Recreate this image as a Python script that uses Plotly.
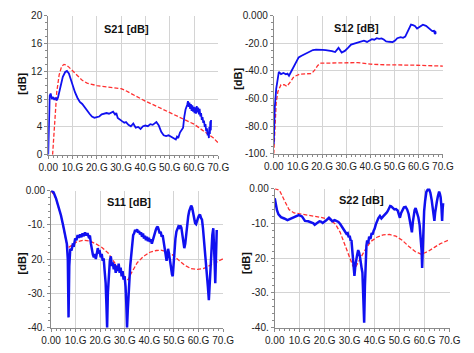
import plotly.graph_objects as go

W, H = 474, 353

# ---------------- data ----------------
xticks = [0, 10, 20, 30, 40, 50, 60, 70]
xticklabels = ["0.00", "10.G", "20.G", "30.G", "40.G", "50.G", "60.G", "70.G"]

# S21
s21_y_ticks = [0, 4, 8, 12, 16, 20]
s21_y_labels = ["0", "4", "8", "12", "16", "20"]
s21_red_f = [1.8, 2.5, 3.5, 4.5, 5.5, 6.5, 7.5, 8.5, 10, 12, 14, 16, 18, 20, 22, 25, 28, 30, 32, 34, 36, 38, 40,
             45, 50, 55, 60, 62, 65, 68, 70]
s21_red_v = [0, 4, 9, 11.5, 12.7, 13.0, 12.9, 12.6, 12.1, 11.3, 10.7, 10.3, 10.1, 9.95, 9.85, 9.75, 9.6, 9.5,
             9.2, 8.8, 8.4, 8.0, 7.7, 6.9, 6.1, 5.3, 4.4, 3.9, 3.2, 2.4, 1.7]
s21_blue_f = [0, 0.3, 0.6, 1.0, 1.5, 2.0, 2.5, 3.0, 3.5, 4.0, 5.0, 6.0, 7.0, 7.7, 8.5, 9.5, 10.3, 11, 12, 13, 14,
              15, 16, 17, 18, 19, 20, 21, 22, 23, 24, 25, 26, 26.7, 27.5, 28, 28.6, 29.5, 30.5, 31.3, 32, 33, 34,
              35, 36, 37, 38, 39, 40, 41, 42, 43, 44, 44.5, 45.5, 46.5, 47.5, 48.5, 49.5, 50.5, 51.5, 52.5, 53,
              53.5, 54.2, 55, 55.5, 56, 56.5, 57.2, 57.5, 57.8, 58.1, 58.4, 58.7, 59.0, 59.3, 59.6, 59.9, 60.2,
              60.5, 60.8, 61.1, 61.4, 61.7, 62.0, 62.3, 62.6, 62.9, 63.2, 63.5, 63.8, 64.1, 64.4, 64.7, 65.0,
              65.3, 65.6, 65.9, 66.1, 66.3, 66.5, 66.7, 66.9, 67.0]
s21_blue_v = [0, 3, 8.5, 8.8, 8.0, 8.3, 7.9, 8.2, 7.8, 8.2, 9.8, 11.2, 11.9, 12.05, 11.7, 10.5, 9.6, 9.0, 8.2, 7.6,
              7.3, 6.8, 6.3, 5.9, 5.5, 5.3, 5.4, 5.5, 5.8, 5.9, 6.0, 5.9, 6.1, 6.2, 5.8, 6.0, 5.3, 5.0, 4.8, 4.6,
              4.7, 4.3, 4.1, 4.5, 3.9, 4.0, 3.7, 4.1, 4.2, 4.1, 4.4, 4.3, 4.6, 4.7, 4.2, 3.3, 2.8, 2.7, 2.8, 2.6,
              2.5, 2.2, 2.6, 2.4, 3.2, 3.6, 3.9, 5.5, 6.5, 7.2, 7.7, 6.9, 7.5, 6.6, 7.3, 6.3, 7.1, 6.2, 6.9, 6.0,
              6.8, 5.9, 7.0, 6.1, 6.8, 5.8, 6.6, 5.5, 6.0, 5.0, 5.4, 4.6, 4.9, 4.0, 4.4, 3.4, 3.8, 2.8, 3.2, 2.4,
              4.0, 3.0, 4.8, 3.5, 5.0]

# S12
s12_y_ticks = [0, -20, -40, -60, -80, -100]
s12_y_labels = ["0.000", "-20.0", "-40.0", "-60.0", "-80.0", "-100."]
s12_red_f = [0, 0.4, 1.0, 1.7, 3.0, 4.3, 5.4, 7.0, 8.3, 10.9, 13.6, 15.6, 16.9, 18.2, 19.5, 24.1, 30.7, 34.7, 40,
             46.5, 57, 70]
s12_red_v = [-100, -81, -63, -55, -50, -50, -51.2, -47.7, -44.2, -42.3, -41.9, -41.9, -39.5, -36, -34.4, -34.2,
             -33.7, -34, -35.1, -35.6, -35.8, -36.5]
s12_blue_f = [0, 0.4, 1.0, 1.6, 2.1, 3.0, 4.0, 5.0, 5.7, 6.3, 7.2, 8.3, 9.3, 10.3, 11.5, 12.9, 14.5, 16.2, 17.5,
              18.9, 20.2, 21.5, 22.8, 24.1, 25.4, 26.8, 28.1, 29.4, 30.7, 32.0, 33.3, 34.7, 36.0, 37.3, 38.6,
              39.6, 40.6, 41.6, 42.6, 43.6, 44.6, 45.5, 46.5, 47.8, 49.2, 50.2, 51.1, 52.5, 53.5, 54.4, 55.2,
              55.8, 56.8, 57.6, 58.4, 59.3, 60.4, 61.7, 63.0, 64.3, 65.6, 66.3, 66.6, 66.8, 67.0, 66.7, 66.4]
s12_blue_v = [-93, -67, -53, -45, -40.7, -42.3, -41.5, -42.5, -42.0, -43.5, -40.5, -36, -32.5, -30.2, -29.0,
              -27.9, -26.5, -24.9, -24.6, -24.4, -24.7, -24.9, -25.1, -25.6, -26.3, -23.3, -26.7, -25.5, -23.3,
              -20.9, -20.2, -19.3, -18.7, -18.1, -19.0, -17.8, -17.0, -17.4, -16.3, -16.8, -16.5, -17.3, -18.6,
              -18.9, -19.1, -18.0, -16.3, -15.6, -16.0, -15.2, -12.5, -10.5, -6.5, -6.8, -7.4, -9.3, -8.1, -6.5,
              -7.4, -9.3, -11.2, -11.0, -13.0, -11.0, -12.5, -13.2, -11.8]

# S11
s11_y_ticks = [0, -10, -20, -30, -40]
s11_y_labels = ["0.00", "-10.", "20.", "-30.", "-40."]
s11_red_f = [0, 1.9, 3.9, 5.2, 6.2, 7.1, 8.4, 10.4, 13, 15.6, 18.1, 20.7, 23.3, 25.9, 28.5, 30.5, 31.4, 32.4, 35,
             37.6, 40.2, 42.8, 44.7, 46.7, 49.3, 51.9, 54.4, 57, 59.6, 62.2, 64.8, 67.4, 70]
s11_red_v = [0, -2.3, -7.0, -11.7, -15, -16.6, -15.9, -15, -14.5, -14.7, -15.5, -16.6, -18.3, -21.3, -23.9, -25.8,
             -26.0, -24.4, -21.1, -19.2, -18, -17.5, -17.4, -17.8, -18.7, -20.3, -21.8, -22.8, -23, -22.7, -21.8,
             -20.9, -19.9]
s11_blue_f = [0, 1, 2, 3, 4, 5, 5.8, 6.4, 6.8, 7.1, 7.4, 7.8, 8.3, 8.8, 9.3, 9.8, 10.3, 10.8, 11.3, 11.8, 12.3,
              12.8, 13.3, 13.8, 14.3, 14.8, 15.3, 15.8, 16.2, 16.6, 17.0, 17.4, 17.8, 18.2, 18.6, 19.0, 19.4,
              19.8, 20.2, 20.6, 21.0, 21.4, 21.8, 22.2, 22.5, 22.8, 23.1, 23.5, 23.9, 24.3, 24.7, 25.1, 25.5,
              25.9, 26.3, 26.7, 27.1, 27.5, 27.9, 28.3, 28.7, 29.1, 29.5, 29.9, 30.3, 30.6, 30.9, 31.2, 31.5,
              31.8, 32.2, 32.6, 33.0, 33.4, 33.8, 34.2, 34.6, 35.0, 35.4, 35.8, 36.2, 36.6, 37.0, 37.4, 37.8,
              38.2, 38.6, 39.0, 39.4, 39.8, 40.2, 40.6, 41.0, 41.4, 41.8, 42.2, 42.6, 43.0, 43.4, 43.8, 44.2,
              44.6, 45.0, 45.4, 45.8, 46.2, 46.6, 47.0, 47.3, 47.6, 48.0, 48.4, 48.8, 49.2, 49.5, 49.8, 50.2,
              50.6, 51.0, 51.4, 51.8, 52.2, 52.6, 53.0, 53.4, 53.8, 54.2, 54.6, 55.0, 55.4, 55.8, 56.2, 56.6,
              57.0, 57.4, 57.8, 58.2, 58.6, 59.0, 59.4, 59.8, 60.2, 60.6, 61.0, 61.4, 61.8, 62.2, 62.6, 63.0,
              63.4, 63.8, 64.2, 64.5, 64.8, 65.2, 65.6, 66.0, 66.3, 66.6, 66.8, 67.0, 67.2, 67.4]
s11_blue_v = [0, -0.5, -2.3, -4.5, -7.2, -10.5, -13.5, -15.5, -20, -37, -22, -17, -17.5, -15.8, -16, -14, -14.5,
              -13, -13.8, -12.8, -13.6, -12.5, -13.3, -12.2, -13.1, -12.4, -13.5, -13.2, -15.5, -17.5, -18.7,
              -19.5, -18.5, -20, -17.5, -16.8, -18, -17.8, -19.5, -18.5, -20.5, -19.8, -23.5, -27, -33, -40, -30,
              -24, -20.5, -19.2, -22, -21, -23, -21.5, -24, -22, -23.5, -21.3, -24, -22.5, -25, -23.5, -26, -25,
              -28, -33, -40, -35, -30, -27, -22, -19, -15, -13, -12.5, -11.5, -12, -11.3, -12.3, -11.8, -12.8,
              -12.2, -13.5, -12.5, -14, -13.2, -14.5, -13.5, -14.8, -13.8, -15, -14.2, -15.5, -14.5, -13, -12.5,
              -11.5, -10.8, -10.5, -11.5, -12.5, -12, -13.5, -13, -15, -16.5, -18.5, -20.5, -19, -17, -18.5,
              -21, -22.5, -24.5, -25, -21, -17, -14, -12, -11, -10.5, -10.8, -10.2, -10.8, -12.5, -15, -16.8,
              -15.5, -12.5, -10, -7.5, -6, -5, -4.4, -5, -7, -8.5, -9.5, -9.8, -8.5, -8, -7.3, -7.0, -8, -8.5,
              -11, -14, -17, -20, -24, -28, -32, -27, -22, -17, -13, -11, -15, -22, -27, -18, -12, -11.5]

# S22
s22_y_ticks = [0, -10, -20, -30, -40]
s22_y_labels = ["0.00", "-10.", "20.", "-30.", "-40."]
s22_red_f = [0, 1.9, 3.8, 5.7, 7.7, 10.2, 14, 17.9, 21.7, 24.3, 26.2, 28.1, 30, 31.3, 32.2, 33.8, 35.8, 38.3,
             40.9, 43.4, 46, 48.5, 51.1, 53.6, 56.2, 58.7, 61.3, 63.9, 66.4, 70]
s22_red_v = [0, -0.5, -3.3, -6.0, -7.0, -7.3, -7.6, -8.2, -8.8, -10.2, -12.6, -16.3, -20.3, -22.3, -22.8, -20.5,
             -18.1, -15.3, -14, -13.3, -13.2, -13.7, -14.9, -16.6, -18.1, -18.9, -18.1, -16.9, -15.8, -14.7]
s22_blue_f = [0, 0.4, 0.9, 1.5, 2.5, 3.8, 5.1, 6, 7, 8.3, 9.6, 10.9, 12.1, 13.4, 14.7, 15.5, 16.0, 17.0, 17.9,
              18.5, 19.2, 20.5, 21.7, 22.3, 23, 24, 24.9, 25.5, 26.2, 26.8, 27.5, 28.1, 28.7, 29.2, 29.6, 30.0,
              30.4, 30.7, 31.0, 31.3, 31.6, 31.9, 32.3, 32.6, 33.0, 33.4, 33.8, 34.2, 34.5, 34.8, 35.1, 35.5,
              35.8, 36.1, 36.4, 36.7, 37.0, 37.4, 37.8, 38.3, 38.8, 39.2, 39.6, 40.0, 40.5, 40.9, 41.5, 42.1,
              42.7, 43.4, 44.0, 44.7, 45.2, 45.7, 46.2, 46.6, 47.2, 47.9, 48.5, 49.2, 49.7, 50.1, 50.6, 51.1,
              51.7, 52.4, 53.0, 53.6, 54.2, 54.6, 54.9, 55.3, 55.6, 56.0, 56.4, 57.0, 57.5, 58.0, 58.5, 58.8,
              59.0, 59.3, 59.6, 59.8, 60.2, 60.7, 61.1, 61.6, 62.0, 62.3, 62.8, 63.2, 63.6, 63.9, 64.2, 64.5,
              64.9, 65.3, 65.8, 66.1, 66.4, 66.7, 67.0, 67.2, 67.4]
s22_blue_v = [-2.8, -4.7, -6.2, -7.4, -8.2, -8.6, -9.1, -8.8, -8.4, -8.0, -7.6, -8.0, -9.3, -9.4, -9.8, -10.0,
              -10.4, -10.0, -9.4, -9.5, -9.9, -9.2, -8.4, -8.8, -9.4, -9.1, -9.4, -9.6, -10.2, -10.8, -11.6,
              -12.1, -13.0, -12.8, -14.0, -13.6, -15.0, -14.8, -18, -21.4, -24, -25.1, -22, -20, -19.0, -17.7,
              -18.5, -20.0, -21.0, -23, -24.2, -30, -38.6, -28, -20.5, -16.5, -14.9, -15.8, -13.8, -14.5, -12.8,
              -13.2, -12.1, -11.5, -10.2, -9.3, -8.5, -7.9, -8.6, -8.0, -7.6, -7.0, -6.5, -5.6, -5.0, -5.1,
              -5.6, -6.0, -5.9, -6.3, -7.5, -8.4, -7.0, -6.2, -5.4, -5.3, -6.0, -7.3, -9.5, -11.5, -12.6, -9.5,
              -7.5, -6.2, -5.6, -6.8, -8.3, -10.5, -14, -18, -22.8, -16, -10, -6.5, -3.5, -0.9, -0.5, 0.2, -0.6,
              -1.2, -3.2, -5.6, -7.5, -9.3, -7.0, -5.0, -3.7, -2.2, -0.9, -1.5, -2.5, -5.0, -9.3, -6.0, -4.2]

# ---------------- figure ----------------
BLUE = "#1010f0"
RED = "#ff3030"
GRID = "#d4d4d4"
AXIS = "#8a8a8a"
TICKFONT = dict(family="Liberation Sans, Arial, sans-serif", size=10, color="#222222")


def px_dom_x(a, b):
    return [a / W, b / W]


def px_dom_y(top, bottom):
    return [1 - bottom / H, 1 - top / H]


panels = [
    ((40, 218), (10, 154), [0, 20], s21_y_ticks, s21_y_labels, 1, (s21_red_f, s21_red_v), (s21_blue_f, s21_blue_v),
     1.8, "S21 [dB]", (122, 24), (13, 80)),
    ((276, 453), (10, 153), [-100, 0], s12_y_ticks, s12_y_labels, 5, (s12_red_f, s12_red_v),
     (s12_blue_f, s12_blue_v), 1.8, "S12 [dB]", (363, 23), (239, 75)),
    ((43, 223), (191, 333), [-40, 0], s11_y_ticks, s11_y_labels, 2, (s11_red_f, s11_red_v),
     (s11_blue_f, s11_blue_v), 2.5, "S11 [dB]", (125, 203), (12, 266)),
    ((277, 460), (189, 333), [-40, 0], s22_y_ticks, s22_y_labels, 2, (s22_red_f, s22_red_v),
     (s22_blue_f, s22_blue_v), 2.5, "S22 [dB]", (368, 201), (247, 266)),
]

fig = go.Figure()
layout = dict(
    width=W, height=H, margin=dict(l=0, r=0, t=0, b=0),
    paper_bgcolor="white", plot_bgcolor="white", showlegend=False,
    annotations=[],
)

for i, (xd, yd, yr, yt, yl, ymin, red, blue, bw, title, tpos, lpos) in enumerate(panels):
    n = "" if i == 0 else str(i + 1)
    xa, ya = "x" + n, "y" + n
    fig.add_trace(go.Scatter(x=red[0], y=red[1], mode="lines", xaxis=xa, yaxis=ya,
                             line=dict(color=RED, width=1.3, dash="4px,2px")))
    fig.add_trace(go.Scatter(x=blue[0], y=blue[1], mode="lines", xaxis=xa, yaxis=ya,
                             line=dict(color=BLUE, width=bw)))
    layout["xaxis" + n] = dict(
        domain=px_dom_x(*xd), anchor=ya, range=[0, 70], tickvals=xticks, ticktext=xticklabels,
        tickangle=0,
        showgrid=True, gridcolor=GRID, gridwidth=1, zeroline=False,
        showline=True, linecolor=AXIS, linewidth=1, ticks="outside", ticklen=3, tickcolor=AXIS,
        minor=dict(dtick=2, ticks="outside", ticklen=2, tickcolor=AXIS, showgrid=False),
        tickfont=TICKFONT, fixedrange=True,
    )
    layout["yaxis" + n] = dict(
        domain=px_dom_y(*yd), anchor=xa, range=yr, tickvals=yt, ticktext=yl,
        showgrid=True, gridcolor=GRID, gridwidth=1, zeroline=False,
        showline=True, linecolor=AXIS, linewidth=1, ticks="outside", ticklen=3, tickcolor=AXIS,
        minor=dict(dtick=ymin, ticks="outside", ticklen=2, tickcolor=AXIS, showgrid=False),
        tickfont=TICKFONT, fixedrange=True,
    )
    layout["annotations"].append(dict(
        text="<b>" + title + "</b>", x=tpos[0] / W, y=1 - tpos[1] / H, xref="paper", yref="paper",
        showarrow=False, font=dict(family="Liberation Sans, Arial, sans-serif", size=11, color="#111111"),
        xanchor="center", yanchor="middle"))
    layout["annotations"].append(dict(
        text="<b>[dB]</b>", x=lpos[0] / W, y=1 - lpos[1] / H, xref="paper", yref="paper",
        showarrow=False, textangle=-90,
        font=dict(family="Liberation Sans, Arial, sans-serif", size=11, color="#111111"),
        xanchor="center", yanchor="middle"))

fig.update_layout(**layout)
fig.write_html("out.html")
